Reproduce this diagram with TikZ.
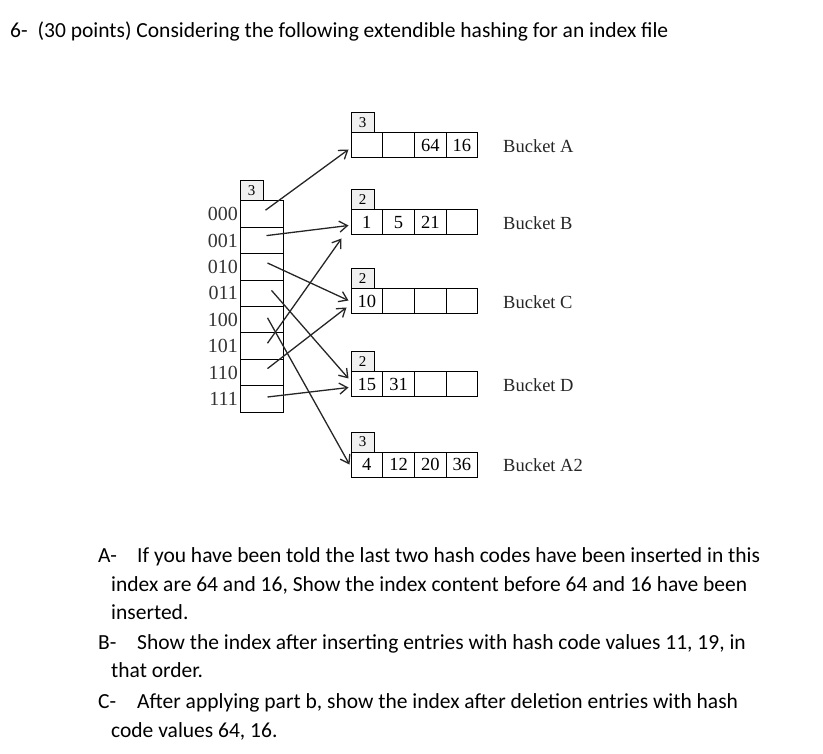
\documentclass[tikz,border=0pt]{standalone}
\usepackage{fontspec}
\setmainfont{Carlito}
\newfontfamily\timesfont{Liberation Serif}
\usetikzlibrary{arrows.meta}

\begin{document}
\begin{tikzpicture}[x=1pt, y=-1pt,
  dircell/.style={draw, line width=1pt, minimum width=43pt, minimum height=26.4pt, inner sep=0pt},
  depthbox/.style={draw, line width=1pt, fill=gray!12, minimum width=23pt, minimum height=20pt, inner sep=0pt, font=\timesfont\fontsize{15}{15}\selectfont},
  reccell/.style={draw, line width=1pt, minimum width=31.7pt, minimum height=25pt, inner sep=0pt, font=\timesfont\fontsize{18.5}{18.5}\selectfont},
  bitlabel/.style={anchor=east, inner sep=1pt, font=\timesfont\fontsize{20}{20}\selectfont, text=black!80},
  bucketlabel/.style={anchor=west, inner sep=0pt, font=\timesfont\fontsize{18.5}{18.5}\selectfont, text=black!85},
  ptr/.style={-{Straight Barb[length=8pt,width=11pt]}, line width=1.3pt, black!85},
  qtext/.style={anchor=base west, inner sep=0pt, font=\fontsize{21.5}{21.5}\selectfont}
]
\useasboundingbox (0,0) rectangle (823,754);

% heading
\node[qtext] (head) at (10,38) {6-\hspace{10pt}(30 points) Considering the following extendible hashing for an index file};

% directory
\node[depthbox] (gdepth) at (251.5,191) {3};
\foreach \b [count=\i from 0] in {000,001,010,011,100,101,110,111} {
  \node[dircell] (d\i) at (261.5,{214.2+26.4*\i}) {};
  \node[bitlabel] (l\i) at (239,{214.2+26.4*\i}) {\b};
}

% buckets
\foreach \n/\top/\dep/\lab/\cells in {A/133/3/{Bucket A}/{,,64,16}, B/210/2/{Bucket B}/{1,5,21,}, C/289/2/{Bucket C}/{10,,,}, D/372/2/{Bucket D}/{15,31,,}, A2/452/3/{Bucket A2}/{4,12,20,36}} {
  \node[depthbox] (b\n-d) at (362.5,\top-10) {\dep};
  \foreach \c [count=\j from 0] in \cells {
    \node[reccell] (b\n-\j) at ({366.85+31.7*\j},\top+12.5) {\c};
  }
  \node[bucketlabel] (lab\n) at (503,\top+13) {\lab};
}

% pointers
\draw[ptr] ([shift={(4pt,4pt)}]d0.center) -- ([shift={(-2pt,-4pt)}]bA-0.west);
\draw[ptr] ([shift={(5pt,5pt)}]d1.center) -- ([shift={(-2pt,-3pt)}]bB-0.west);
\draw[ptr] ([shift={(6pt,4pt)}]d2.center) -- ([shift={(-2pt,1pt)}]bC-0.west);
\draw[ptr] ([shift={(10pt,3pt)}]d3.center) -- ([shift={(-2pt,6pt)}]bD-0.west);
\draw[ptr] ([shift={(6pt,2pt)}]d4.center) -- ([shift={(-1pt,0pt)}]bA2-0.west);
\draw[ptr] ([shift={(6pt,3pt)}]d5.center) -- ([shift={(-9pt,-3pt)}]bB-0.south west);
\draw[ptr] ([shift={(6pt,4pt)}]d6.center) -- ([shift={(-4pt,-6pt)}]bC-0.west);
\draw[ptr] ([shift={(6pt,2pt)}]d7.center) -- ([shift={(-2pt,-3pt)}]bD-0.west);

% questions
\node[qtext] (qa) at (98,562) {A-};
\node[qtext] (qa1) at (137,562) {If you have been told the last two hash codes have been inserted in this};
\node[qtext] (qa2) at (111,591) {index are 64 and 16, Show the index content before 64 and 16 have been};
\node[qtext] (qa3) at (111,619) {inserted.};
\node[qtext] (qb) at (98,649) {B-};
\node[qtext] (qb1) at (137,649) {Show the index after inserting entries with hash code values 11, 19, in};
\node[qtext] (qb2) at (111,677) {that order.};
\node[qtext] (qc) at (98,708) {C-};
\node[qtext] (qc1) at (137,708) {After applying part b, show the index after deletion entries with hash};
\node[qtext] (qc2) at (111,737) {code values 64, 16.};
\end{tikzpicture}
\end{document}
